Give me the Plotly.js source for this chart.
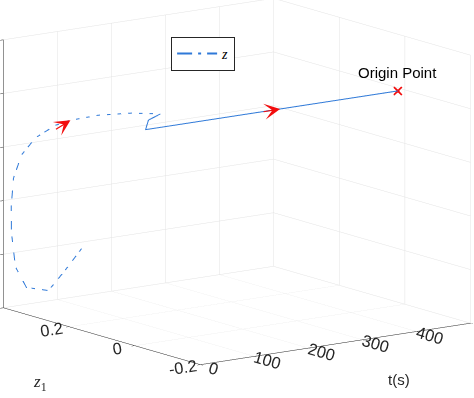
<!DOCTYPE html>
<html>
<head>
<meta charset="utf-8">
<script src="https://cdn.plot.ly/plotly-3.0.1.min.js"></script>
<style>html,body{margin:0;padding:0;background:#fff;}#plot{width:474px;height:398px;}</style>
</head>
<body>
<div id="plot"></div>
<script>
// Trajectory: time t (s), state z1, state z2 (vertical)
const tDashDot  = [0, 1, 2, 3, 4, 5, 6, 7, 8, 9, 10];
const z1DashDot = [0.162, 0.213, 0.266, 0.335, 0.370, 0.384, 0.386, 0.381, 0.358, 0.317, 0.258];
const z2DashDot = [-0.495, -0.593, -0.689, -0.702, -0.638, -0.514, -0.417, -0.312, -0.217, -0.139, -0.072];

const tDash  = [10, 11, 12, 13, 14];
const z1Dash = [0.258, 0.214, 0.131, 0.031, -0.055];
const z2Dash = [-0.072, -0.038, 0.010, 0.053, 0.080];

const tSolid  = [14, 15, 20, 487];
const z1Solid = [-0.055, -0.017, 0, 0];
const z2Solid = [0.080, 0.043, 0, 0];

const originT = [487], originZ1 = [0], originZ2 = [0];
const originLabel = 'Origin Point';

const arrowT  = [11, 269];
const arrowZ1 = [0.214, 0];
const arrowZ2 = [-0.038, 0];

const tTicks  = [0, 100, 200, 300, 400, 500];
const tLabels = ['0', '100', '200', '300', '400', ''];
const z1Ticks  = [-0.2, 0, 0.2, 0.4];
const z1Labels = ['-0.2', '0', '0.2', ''];
const z2Ticks = [-0.8, -0.6, -0.4, -0.2, 0, 0.2];

const legendName = '<i>z</i>';
const xTitle = 't(s)';
const yTitle = '<i>z</i><sub>1</sub>';

const blue = '#2f79d8';
const red = '#f20d0d';
const sans = 'Liberation Sans, Arial, Helvetica, sans-serif';
const serif = 'Liberation Serif, Times New Roman, serif';

const traces = [
  {type:'scatter3d', mode:'lines', x:tDashDot, y:z1DashDot, z:z2DashDot, name:legendName,
   line:{color:blue, width:2, dash:'longdashdot'}, showlegend:true},
  {type:'scatter3d', mode:'lines', x:tDash, y:z1Dash, z:z2Dash,
   line:{color:blue, width:2, dash:'longdash'}, showlegend:false},
  {type:'scatter3d', mode:'lines', x:tSolid, y:z1Solid, z:z2Solid,
   line:{color:blue, width:2}, showlegend:false},
  {type:'scatter3d', mode:'markers', x:originT, y:originZ1, z:originZ2,
   marker:{symbol:'cross', size:2, color:red}, showlegend:false},
  {type:'scatter3d', mode:'markers', x:originT, y:originZ1, z:originZ2,
   marker:{symbol:'x', size:2, color:red}, showlegend:false}
];

const axisBase = {
  showbackground:false, gridcolor:'#e3e3e3', gridwidth:1,
  showline:true, linecolor:'#262626', linewidth:1,
  ticks:'outside', ticklen:4, tickcolor:'#262626',
  zeroline:false, showspikes:false,
  tickfont:{family:sans, size:14, color:'#262626'},
  title:{text:''}
};

const arrowDx = [-16, -18];
const arrowDy = [10, 3];
const sceneAnn = arrowT.map((t, i) => ({
  x:t, y:arrowZ1[i], z:arrowZ2[i], text:'', showarrow:true,
  arrowhead:3, arrowsize:2.2, arrowwidth:1.2, arrowcolor:red,
  ax:arrowDx[i], ay:arrowDy[i]
}));
sceneAnn.push({
  x:originT[0], y:originZ1[0], z:originZ2[0], text:originLabel, showarrow:false,
  yshift:18, font:{family:sans, size:15, color:'#000'}
});

// camera (view direction) -- style, not data
const az = 36.1 * Math.PI / 180, el = 9 * Math.PI / 180, dist = 1.6;
const eye = {x:-Math.sin(az)*Math.cos(el)*dist, y:-Math.cos(az)*Math.cos(el)*dist, z:Math.sin(el)*dist};
const zoomK = 1.68;

const layout = {
  width:474, height:398,
  margin:{l:0, r:0, t:0, b:0},
  paper_bgcolor:'#fff',
  showlegend:true,
  legend:{x:0.361, y:0.907, xanchor:'left', yanchor:'top', itemwidth:40,
    bgcolor:'#fff', bordercolor:'#262626', borderwidth:1,
    font:{family:serif, size:14, color:'#000'}},
  scene:{
    domain:{x:[0,1], y:[0,1]},
    xaxis:Object.assign({}, axisBase, {range:[0,500], tickvals:tTicks, ticktext:tLabels}),
    yaxis:Object.assign({}, axisBase, {range:[-0.2,0.4], tickvals:z1Ticks, ticktext:z1Labels}),
    zaxis:Object.assign({}, axisBase, {range:[-0.8,0.2], tickvals:z2Ticks, showticklabels:false}),
    aspectmode:'manual', aspectratio:{x:zoomK, y:zoomK, z:0.82*zoomK},
    camera:{
      eye:eye, up:{x:0, y:0, z:1}, center:{x:0, y:0, z:-0.09},
      projection:{type:'orthographic'}
    },
    annotations:sceneAnn
  },
  annotations:[
    {xref:'paper', yref:'paper', x:0.87, y:0.02, text:xTitle, showarrow:false,
     font:{family:sans, size:15, color:'#262626'}},
    {xref:'paper', yref:'paper', x:0.065, y:0.005, yanchor:'bottom', text:yTitle, showarrow:false,
     font:{family:serif, size:17, color:'#262626'}}
  ]
};

Plotly.newPlot('plot', traces, layout, {displayModeBar:false});
</script>
</body>
</html>
